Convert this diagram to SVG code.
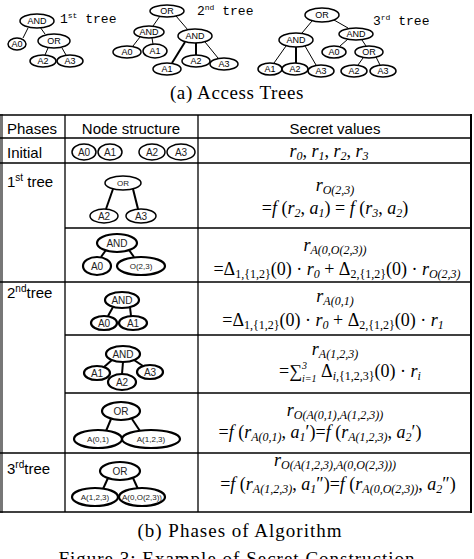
<svg xmlns="http://www.w3.org/2000/svg" width="474" height="559" viewBox="0 0 474 559">
<style>
.n{fill:#fff;stroke:#000;stroke-width:1.5}
.nb{fill:#fff;stroke:#000;stroke-width:2.2}
.tl{font-family:"Liberation Sans",Arial,sans-serif;font-size:9px;fill:#000;text-anchor:middle}
.tn{font-family:"Liberation Sans",Arial,sans-serif;font-size:10px;fill:#222;text-anchor:middle}
.ts{font-family:"Liberation Sans",Arial,sans-serif;font-size:8px;fill:#222;text-anchor:middle}
.mono{font-family:"Liberation Mono","Courier New",monospace;font-size:13px;fill:#000}
.cap{font-family:"Liberation Serif","Times New Roman",serif;font-size:19px;fill:#000;text-anchor:middle}
.hd{font-family:"Liberation Sans",Arial,sans-serif;font-size:15px;fill:#000}
.m{font-family:"Liberation Serif","Times New Roman",serif;font-size:18px;fill:#000}
.i{font-style:italic}
.sb{font-size:12px;font-style:italic}
.su{font-size:12px}
.lim{font-size:10px;font-style:italic}
.e{stroke:#000;stroke-width:1;fill:none}
.eb{stroke:#000;stroke-width:2;fill:none}
.g{stroke:#000;stroke-width:1.3;fill:none}
</style>

<!-- connectors -->
<g id="connectors">
  <line class="e" x1="28" y1="28" x2="23" y2="38"/>
  <line class="e" x1="40" y1="27" x2="45" y2="34"/>
  <line class="e" x1="48" y1="48" x2="45" y2="55"/>
  <line class="e" x1="62" y1="48" x2="66" y2="55"/>

  <line class="e" x1="160" y1="16" x2="153" y2="26"/>
  <line class="e" x1="176" y1="16" x2="188" y2="30"/>
  <line class="e" x1="140" y1="37" x2="133" y2="46"/>
  <line class="e" x1="152" y1="38" x2="153" y2="44"/>
  <line class="eb" x1="185" y1="42" x2="172" y2="63"/>
  <line class="eb" x1="196" y1="43" x2="196" y2="55"/>
  <line class="e" x1="205" y1="42" x2="218" y2="58"/>

  <line class="e" x1="312" y1="21" x2="302" y2="33"/>
  <line class="e" x1="334" y1="20" x2="348" y2="28"/>
  <line class="e" x1="286" y1="46" x2="274" y2="63"/>
  <line class="eb" x1="296" y1="47" x2="296" y2="63"/>
  <line class="e" x1="305" y1="46" x2="316" y2="65"/>
  <line class="e" x1="348" y1="39" x2="340" y2="46"/>
  <line class="e" x1="362" y1="40" x2="366" y2="46"/>
  <line class="e" x1="363" y1="58" x2="358" y2="65"/>
  <line class="e" x1="376" y1="57" x2="380" y2="65"/>

  <line class="eb" x1="113" y1="189" x2="106" y2="209"/>
  <line class="eb" x1="133" y1="189" x2="138" y2="209"/>
  <line class="eb" x1="106" y1="250" x2="101" y2="257"/>
  <line class="eb" x1="129" y1="250" x2="134" y2="257"/>
  <line class="eb" x1="113" y1="307" x2="108" y2="316"/>
  <line class="eb" x1="130" y1="307" x2="131" y2="316"/>
  <line class="eb" x1="112" y1="360" x2="104" y2="367"/>
  <line class="eb" x1="123" y1="362" x2="122" y2="374"/>
  <line class="eb" x1="134" y1="360" x2="143" y2="366"/>
  <line class="eb" x1="111" y1="419" x2="106" y2="431"/>
  <line class="eb" x1="132" y1="419" x2="140" y2="431"/>
  <line class="eb" x1="108" y1="478" x2="103" y2="489"/>
  <line class="eb" x1="133" y1="478" x2="138" y2="489"/>
</g>

<!-- tree 1 -->
<g id="t1-and"><ellipse class="n" cx="37" cy="21" rx="17" ry="7"/><text class="tl" x="37" y="24">AND</text></g>
<g id="t1-a0"><ellipse class="n" cx="17" cy="44" rx="9" ry="6"/><text class="tl" x="17" y="47">A0</text></g>
<g id="t1-or"><ellipse class="n" cx="54" cy="41" rx="16" ry="7"/><text class="tl" x="54" y="44">OR</text></g>
<g id="t1-a2"><ellipse class="n" cx="43" cy="61" rx="13" ry="6"/><text class="tl" x="43" y="64">A2</text></g>
<g id="t1-a3"><ellipse class="n" cx="70" cy="61" rx="13" ry="6"/><text class="tl" x="70" y="64">A3</text></g>
<text class="mono" x="60" y="23">1<tspan font-size="8" dy="-5">st</tspan><tspan dy="5"> tree</tspan></text>

<!-- tree 2 -->
<g id="t2-or"><ellipse class="n" cx="167" cy="11" rx="17" ry="6"/><text class="tl" x="167" y="14">OR</text></g>
<g id="t2-andl"><ellipse class="n" cx="149" cy="32" rx="15" ry="6"/><text class="tl" x="149" y="35">AND</text></g>
<g id="t2-andr"><ellipse class="n" cx="195" cy="36" rx="17" ry="7"/><text class="tl" x="195" y="39">AND</text></g>
<g id="t2-a0"><ellipse class="n" cx="127" cy="52" rx="14" ry="6"/><text class="tl" x="127" y="55">A0</text></g>
<g id="t2-a1"><ellipse class="n" cx="155" cy="51" rx="12" ry="7"/><text class="tl" x="155" y="54">A1</text></g>
<g id="t2-a1b"><ellipse class="n" cx="167" cy="69" rx="14" ry="6"/><text class="tl" x="167" y="72">A1</text></g>
<g id="t2-a2"><ellipse class="n" cx="196" cy="61" rx="14" ry="6"/><text class="tl" x="196" y="64">A2</text></g>
<g id="t2-a3"><ellipse class="n" cx="224" cy="64" rx="14" ry="6"/><text class="tl" x="224" y="67">A3</text></g>
<text class="mono" x="197" y="15">2<tspan font-size="8" dy="-5">nd</tspan><tspan dy="5"> tree</tspan></text>

<!-- tree 3 -->
<g id="t3-or"><ellipse class="n" cx="322" cy="15" rx="17" ry="7"/><text class="tl" x="322" y="18">OR</text></g>
<g id="t3-andl"><ellipse class="n" cx="296" cy="40" rx="17" ry="7"/><text class="tl" x="296" y="43" font-size="7">AND</text></g>
<g id="t3-andr"><ellipse class="n" cx="356" cy="34" rx="17" ry="6"/><text class="tl" x="356" y="37" font-size="7">AND</text></g>
<g id="t3-a1"><ellipse class="n" cx="270" cy="69" rx="12" ry="6"/><text class="tl" x="270" y="72">A1</text></g>
<g id="t3-a2"><ellipse class="n" cx="295" cy="69" rx="13" ry="6"/><text class="tl" x="295" y="72">A2</text></g>
<g id="t3-a3"><ellipse class="n" cx="321" cy="71" rx="13" ry="6"/><text class="tl" x="321" y="74">A3</text></g>
<g id="t3-a0"><ellipse class="n" cx="334" cy="52" rx="12" ry="6"/><text class="tl" x="334" y="55">A0</text></g>
<g id="t3-or2"><ellipse class="n" cx="369" cy="52" rx="14" ry="6"/><text class="tl" x="369" y="55">OR</text></g>
<g id="t3-a2b"><ellipse class="n" cx="354" cy="71" rx="13" ry="6"/><text class="tl" x="354" y="74">A2</text></g>
<g id="t3-a3b"><ellipse class="n" cx="383" cy="71" rx="13" ry="6"/><text class="tl" x="383" y="74">A3</text></g>
<text class="mono" x="373" y="25">3<tspan font-size="8" dy="-5">rd</tspan><tspan dy="5"> tree</tspan></text>

<text class="cap" x="237" y="99" letter-spacing="0.6">(a) Access Trees</text>

<!-- table grid -->
<g id="grid">
  <line x1="1.5" y1="114" x2="1.5" y2="513" stroke="#777" stroke-width="3"/>
  <line x1="471" y1="114" x2="471" y2="513" stroke="#000" stroke-width="2"/>
  <line class="g" x1="0" y1="115" x2="472" y2="115"/>
  <line class="g" x1="0" y1="138" x2="472" y2="138"/>
  <line class="g" x1="0" y1="163" x2="472" y2="163"/>
  <line class="g" x1="65" y1="228" x2="472" y2="228"/>
  <line class="g" x1="0" y1="282" x2="472" y2="282"/>
  <line class="g" x1="65" y1="335" x2="472" y2="335"/>
  <line class="g" x1="65" y1="393" x2="472" y2="393"/>
  <line class="g" x1="0" y1="453" x2="472" y2="453"/>
  <line class="g" x1="0" y1="512" x2="472" y2="512"/>
  <line class="g" x1="65" y1="115" x2="65" y2="512"/>
  <line class="g" x1="198" y1="115" x2="198" y2="512"/>
</g>

<text class="hd" x="7" y="134">Phases</text>
<text class="hd" x="131" y="134" text-anchor="middle">Node structure</text>
<text class="hd" x="335" y="134" text-anchor="middle">Secret values</text>
<text class="hd" x="7" y="158">Initial</text>
<text class="hd" x="7" y="187">1<tspan font-size="10" dy="-6">st</tspan><tspan dy="6"> tree</tspan></text>
<text class="hd" x="7" y="298">2<tspan font-size="10" dy="-6">nd</tspan><tspan dy="6">tree</tspan></text>
<text class="hd" x="7" y="474">3<tspan font-size="10" dy="-6">rd</tspan><tspan dy="6">tree</tspan></text>

<!-- initial nodes -->
<g id="i-a0"><ellipse class="n" cx="84" cy="152" rx="12" ry="8"/><text class="tn" x="84" y="156">A0</text></g>
<g id="i-a1"><ellipse class="n" cx="110" cy="152" rx="12" ry="8"/><text class="tn" x="110" y="156">A1</text></g>
<g id="i-a2"><ellipse class="n" cx="152" cy="152" rx="13" ry="8"/><text class="tn" x="152" y="156">A2</text></g>
<g id="i-a3"><ellipse class="n" cx="181" cy="152" rx="14" ry="8"/><text class="tn" x="181" y="156">A3</text></g>

<!-- 1st tree -->
<g id="r1-or"><ellipse class="n" cx="123" cy="183" rx="18" ry="7"/><text class="ts" x="123" y="186">OR</text></g>
<g id="r1-a2"><ellipse class="n" cx="104" cy="216" rx="14" ry="7"/><text class="tn" x="104" y="220">A2</text></g>
<g id="r1-a3"><ellipse class="n" cx="141" cy="216" rx="15" ry="7"/><text class="tn" x="141" y="220">A3</text></g>
<g id="r1b-and"><ellipse class="nb" cx="117" cy="243" rx="20" ry="9"/><text class="tn" x="117" y="247">AND</text></g>
<g id="r1b-a0"><ellipse class="nb" cx="97" cy="266" rx="14" ry="9"/><text class="tn" x="97" y="270" font-size="11">A0</text></g>
<g id="r1b-o23"><ellipse class="nb" cx="141" cy="266" rx="24" ry="9"/><text class="ts" x="141" y="269">O(2,3)</text></g>

<!-- 2nd tree -->
<g id="r2a-and"><ellipse class="nb" cx="122" cy="300" rx="17" ry="8"/><text class="tn" x="122" y="304">AND</text></g>
<g id="r2a-a0"><ellipse class="nb" cx="104" cy="323" rx="13" ry="7"/><text class="tn" x="104" y="327">A0</text></g>
<g id="r2a-a1"><ellipse class="nb" cx="133" cy="323" rx="14" ry="7"/><text class="tn" x="133" y="327">A1</text></g>
<g id="r2b-and"><ellipse class="nb" cx="123" cy="354" rx="17" ry="8"/><text class="tn" x="123" y="358">AND</text></g>
<g id="r2b-a1"><ellipse class="nb" cx="97" cy="373" rx="13" ry="7"/><text class="tn" x="97" y="377">A1</text></g>
<g id="r2b-a3"><ellipse class="nb" cx="150" cy="372" rx="13" ry="7"/><text class="tn" x="150" y="376">A3</text></g>
<g id="r2b-a2"><ellipse class="nb" cx="122" cy="382" rx="14" ry="8"/><text class="tn" x="122" y="386">A2</text></g>
<g id="r2c-or"><ellipse class="nb" cx="121" cy="411" rx="19" ry="9"/><text class="tn" x="121" y="415">OR</text></g>
<g id="r2c-a01"><ellipse class="nb" cx="98" cy="439" rx="24" ry="9"/><text class="ts" x="98" y="442">A(0,1)</text></g>
<g id="r2c-a123"><ellipse class="nb" cx="151" cy="439" rx="29" ry="9"/><text class="ts" x="151" y="442">A(1,2,3)</text></g>

<!-- 3rd tree -->
<g id="r3-or"><ellipse class="nb" cx="120" cy="471" rx="20" ry="9"/><text class="tn" x="120" y="475">OR</text></g>
<g id="r3-a123"><ellipse class="nb" cx="95" cy="497" rx="23" ry="9"/><text class="ts" x="95" y="500" font-size="7">A(1,2,3)</text></g>
<g id="r3-a0o23"><ellipse class="nb" cx="142" cy="497" rx="23" ry="9"/><text class="ts" x="142" y="500" font-size="7">A(0,O(2,3))</text></g>

<!-- secret values -->
<text class="m" x="329" y="157" text-anchor="middle"><tspan class="i">r</tspan><tspan class="sb" dy="3">0</tspan><tspan dy="-3">, </tspan><tspan class="i">r</tspan><tspan class="sb" dy="3">1</tspan><tspan dy="-3">, </tspan><tspan class="i">r</tspan><tspan class="sb" dy="3">2</tspan><tspan dy="-3">, </tspan><tspan class="i">r</tspan><tspan class="sb" dy="3">3</tspan></text>

<text class="m" x="335" y="191" text-anchor="middle"><tspan class="i">r</tspan><tspan class="sb" dy="3">O(2,3)</tspan></text>
<text class="m" x="335" y="214" text-anchor="middle">=<tspan class="i">f</tspan><tspan> (</tspan><tspan class="i">r</tspan><tspan class="sb" dy="3">2</tspan><tspan dy="-3">, </tspan><tspan class="i">a</tspan><tspan class="sb" dy="3">1</tspan><tspan dy="-3">) = </tspan><tspan class="i">f</tspan><tspan> (</tspan><tspan class="i">r</tspan><tspan class="sb" dy="3">3</tspan><tspan dy="-3">, </tspan><tspan class="i">a</tspan><tspan class="sb" dy="3">2</tspan><tspan dy="-3">)</tspan></text>

<text class="m" x="335" y="251" text-anchor="middle"><tspan class="i">r</tspan><tspan class="sb" dy="3">A(0,O(2,3))</tspan></text>
<text class="m" x="337" y="275" text-anchor="middle">=Δ<tspan class="su" dy="3">1,{1,2}</tspan><tspan dy="-3">(0) · </tspan><tspan class="i">r</tspan><tspan class="sb" dy="3">0</tspan><tspan dy="-3"> + Δ</tspan><tspan class="su" dy="3">2,{1,2}</tspan><tspan dy="-3">(0) · </tspan><tspan class="i">r</tspan><tspan class="sb" dy="3">O(2,3)</tspan></text>

<text class="m" x="335" y="302" text-anchor="middle"><tspan class="i">r</tspan><tspan class="sb" dy="3">A(0,1)</tspan></text>
<text class="m" x="333" y="326" text-anchor="middle">=Δ<tspan class="su" dy="3">1,{1,2}</tspan><tspan dy="-3">(0) · </tspan><tspan class="i">r</tspan><tspan class="sb" dy="3">0</tspan><tspan dy="-3"> + Δ</tspan><tspan class="su" dy="3">2,{1,2}</tspan><tspan dy="-3">(0) · </tspan><tspan class="i">r</tspan><tspan class="sb" dy="3">1</tspan></text>

<text class="m" x="335" y="355" text-anchor="middle"><tspan class="i">r</tspan><tspan class="sb" dy="3">A(1,2,3)</tspan></text>
<text class="m" x="350" y="377" text-anchor="middle">=∑<tspan class="lim" dy="-8">3</tspan><tspan class="lim" dx="-5" dy="13">i</tspan><tspan class="lim" font-style="normal">=1</tspan><tspan dy="-5"> Δ</tspan><tspan class="sb" dy="3">i</tspan><tspan class="su">,{1,2,3}</tspan><tspan dy="-3">(0) · </tspan><tspan class="i">r</tspan><tspan class="sb" dy="3">i</tspan></text>

<text class="m" x="335" y="416" text-anchor="middle"><tspan class="i">r</tspan><tspan class="sb" dy="3">O(A(0,1),A(1,2,3))</tspan></text>
<text class="m" x="320" y="438" text-anchor="middle">=<tspan class="i">f</tspan><tspan> (</tspan><tspan class="i">r</tspan><tspan class="sb" dy="3">A(0,1)</tspan><tspan dy="-3">, </tspan><tspan class="i">a</tspan><tspan class="sb" dy="3">1</tspan><tspan dy="-3">′)=</tspan><tspan class="i">f</tspan><tspan> (</tspan><tspan class="i">r</tspan><tspan class="sb" dy="3">A(1,2,3)</tspan><tspan dy="-3">, </tspan><tspan class="i">a</tspan><tspan class="sb" dy="3">2</tspan><tspan dy="-3">′)</tspan></text>

<text class="m" x="335" y="466" text-anchor="middle"><tspan class="i">r</tspan><tspan class="sb" dy="3">O(A(1,2,3),A(0,O(2,3)))</tspan></text>
<text class="m" x="338" y="490" text-anchor="middle">=<tspan class="i">f</tspan><tspan> (</tspan><tspan class="i">r</tspan><tspan class="sb" dy="3">A(1,2,3)</tspan><tspan dy="-3">, </tspan><tspan class="i">a</tspan><tspan class="sb" dy="3">1</tspan><tspan dy="-3">″)=</tspan><tspan class="i">f</tspan><tspan> (</tspan><tspan class="i">r</tspan><tspan class="sb" dy="3">A(0,O(2,3))</tspan><tspan dy="-3">, </tspan><tspan class="i">a</tspan><tspan class="sb" dy="3">2</tspan><tspan dy="-3">″)</tspan></text>

<text class="cap" x="240" y="537" letter-spacing="1">(b) Phases of Algorithm</text>
<text class="cap" x="237" y="565" letter-spacing="1">Figure 3: Example of Secret Construction</text>
</svg>
